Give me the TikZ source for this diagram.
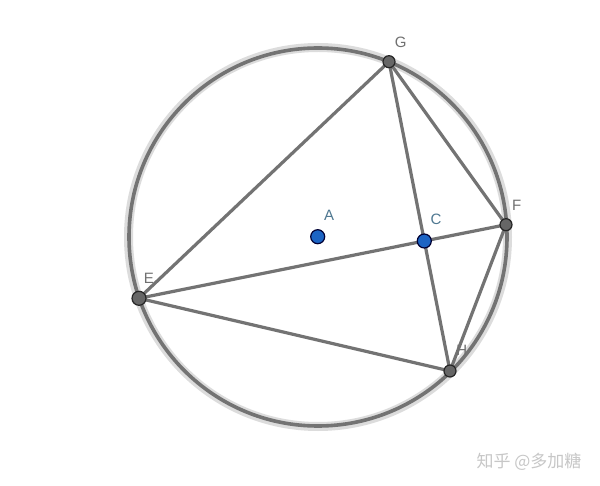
\documentclass[tikz,border=0pt]{standalone}
\usepackage{fontspec}
\setmainfont{Liberation Sans}
\newfontfamily\cjk{Noto Sans CJK SC}
\begin{document}
\begin{tikzpicture}[x=1pt,y=-1pt,
  seg/.style={draw=segc,line width=3.2pt},
  gpt/.style={circle,draw=black!85,fill=ptg,line width=1.2pt,inner sep=0pt,minimum size=12pt},
  bpt/.style={circle,draw=black!80!blue,fill=ptb,line width=1.2pt,inner sep=0pt,minimum size=14pt},
  lbl/.style={font=\fontsize{15}{15}\selectfont,text=lblg},
  lblb/.style={font=\fontsize{15}{15}\selectfont,text=lblb}]
\definecolor{segc}{HTML}{737373}
\definecolor{ptg}{HTML}{666666}
\definecolor{ptb}{HTML}{1C64C4}
\definecolor{lblg}{HTML}{707070}
\definecolor{lblb}{HTML}{4F7891}
\definecolor{halo}{HTML}{DCDCDC}
\useasboundingbox (0,0) rectangle (600,486);
\fill[white] (0,0) rectangle (600,486);
% circle
\coordinate (O) at (318,237);
\draw[halo,line width=9pt] (O) circle (189.5);
\draw[segc,line width=3.6pt] (O) circle (189);
% points
\coordinate (Gc) at (389,61.7);
\coordinate (Fc) at (506,224.7);
\coordinate (Cc) at (424.3,241);
\coordinate (Ac) at (317.7,236.7);
\coordinate (Ec) at (139,298.3);
\coordinate (Hc) at (450,371);
\draw[seg] (Ec) -- (Gc);
\draw[seg] (Gc) -- (Cc) -- (Hc);
\draw[seg] (Gc) -- (Fc);
\draw[seg] (Ec) -- (Cc) -- (Fc);
\draw[seg] (Ec) -- (Hc);
\draw[seg] (Fc) -- (Hc);
\node[gpt] (G) at (Gc) {};
\node[gpt] (F) at (Fc) {};
\node[gpt,minimum size=14pt] (E) at (Ec) {};
\node[gpt] (H) at (Hc) {};
\node[bpt] (C) at (Cc) {};
\node[bpt] (A) at (Ac) {};
% labels
\node[lbl] (lG) at (400.7,42.7) {G};
\node[lbl] (lF) at (516.7,205) {F};
\node[lbl] (lE) at (149,278) {E};
\node[lbl] (lH) at (461.7,350) {H};
\node[lblb] (lA) at (329,215) {A};
\node[lblb] (lC) at (436,219.3) {C};
% watermark
\node[font=\cjk\fontsize{17}{17}\selectfont,text=black!22] (wm) at (529,462) {知乎 @多加糖};
\end{tikzpicture}
\end{document}
